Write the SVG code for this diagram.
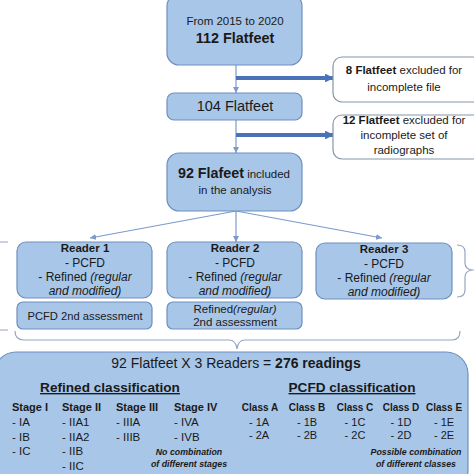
<svg xmlns="http://www.w3.org/2000/svg" width="474" height="474" viewBox="0 0 474 474">
<style>
text{font-family:"Liberation Sans",Arial,sans-serif;fill:#1a1a1a}
.b{font-weight:bold}
.i{font-style:italic}
.c{text-anchor:middle}
.box{fill:#a8c6e8;stroke:#6e8fbf;stroke-width:1.2}
.wbox{fill:#fff;stroke:#8595aa;stroke-width:1.2}
.ln{stroke:#7b9acc;stroke-width:1.2;fill:none}
.thick{stroke:#4a72b8;stroke-width:4;fill:none}
.br{stroke:#95a6bf;stroke-width:1.2;fill:none}
</style>
<defs>
<marker id="ah" viewBox="0 0 10 10" refX="10" refY="5" markerWidth="5" markerHeight="5" orient="auto"><path d="M0,0L10,5L0,10z" fill="#7b9acc"/></marker>
<marker id="ahT" viewBox="0 0 10 10" refX="9" refY="5" markerWidth="2.2" markerHeight="2.2" orient="auto"><path d="M0,0L10,5L0,10z" fill="#4a72b8"/></marker>
</defs>
<rect x="0" y="0" width="474" height="474" fill="#fff"/>
<g id="connectors">
<line class="ln" x1="236" y1="65" x2="236" y2="93" marker-end="url(#ah)"/>
<line class="ln" x1="236" y1="120" x2="236" y2="153" marker-end="url(#ah)"/>
<line class="thick" x1="236" y1="78" x2="333" y2="78" marker-end="url(#ahT)"/>
<line class="thick" x1="236" y1="135" x2="333" y2="135" marker-end="url(#ahT)"/>
<line class="ln" x1="236" y1="211" x2="90" y2="238" marker-end="url(#ah)"/>
<line class="ln" x1="236" y1="211" x2="236" y2="242" marker-end="url(#ah)"/>
<line class="ln" x1="236" y1="211" x2="382" y2="238" marker-end="url(#ah)"/>
<path class="br" d="M0,242L8,242M0,330L8,330"/>
<path class="br" d="M457,245Q465,245 465,252L465,263Q465,269 472,270L474,270M472,270Q465,271 465,277L465,290Q465,297 457,297"/>
<path class="br" d="M15,331Q15,340 24,340L229,340Q236,340 237,349Q238,340 245,340L452,340Q460,340 460,331"/>
<line x1="235" y1="384" x2="235" y2="471" stroke="#4472c4" stroke-width="4"/>
</g>
<g id="n-start">
<rect class="box" x="167" y="-6" width="135" height="71" rx="12"/>
<text class="c" x="235" y="25" font-size="11.5">From 2015 to 2020</text>
<text class="c b" x="235" y="43" font-size="14.4">112 Flatfeet</text>
</g>
<g id="n-104">
<rect class="box" x="167" y="93" width="135" height="27" rx="7"/>
<text class="c" x="235" y="111" font-size="14.5">104 Flatfeet</text>
</g>
<g id="n-92">
<rect class="box" x="167" y="153" width="135" height="58" rx="12"/>
<text class="c" x="234" y="178"><tspan class="b" font-size="14.3">92 Flafeet</tspan><tspan font-size="11.5"> included</tspan></text>
<text class="c" x="235" y="194" font-size="11.5">in the analysis</text>
</g>
<g id="n-excl8">
<rect class="wbox" x="333" y="57" width="150" height="45" rx="9"/>
<text class="c" x="404" y="74" font-size="11.5"><tspan class="b">8 Flatfeet</tspan> excluded for</text>
<text class="c" x="404" y="91" font-size="11.5">incomplete file</text>
</g>
<g id="n-excl12">
<rect class="wbox" x="333" y="115" width="150" height="44" rx="9"/>
<text class="c" x="404" y="124" font-size="11.5"><tspan class="b">12 Flatfeet</tspan> excluded for</text>
<text class="c" x="404" y="139" font-size="11.5">incomplete set of</text>
<text class="c" x="404" y="154" font-size="11.5">radiographs</text>
</g>
<g id="n-reader1">
<rect class="box" x="17" y="242" width="135" height="56" rx="9"/>
<text class="c b" x="85" y="252" font-size="11.5">Reader 1</text>
<text class="c" x="85" y="267" font-size="12">- PCFD</text>
<text class="c" x="85" y="281" font-size="12">- Refined <tspan class="i">(regular</tspan></text>
<text class="c i" x="85" y="295" font-size="12">and modified)</text>
</g>
<g id="n-r1second">
<rect class="box" x="17" y="302" width="135" height="27" rx="6"/>
<text class="c" x="85" y="320" font-size="11.2">PCFD 2nd assessment</text>
</g>
<g id="n-reader2">
<rect class="box" x="167" y="242" width="135" height="56" rx="9"/>
<text class="c b" x="235" y="252" font-size="11.5">Reader 2</text>
<text class="c" x="235" y="267" font-size="12">- PCFD</text>
<text class="c" x="235" y="281" font-size="12">- Refined <tspan class="i">(regular</tspan></text>
<text class="c i" x="235" y="295" font-size="12">and modified)</text>
</g>
<g id="n-r2second">
<rect class="box" x="167" y="302" width="135" height="27" rx="6"/>
<text class="c" x="235" y="313" font-size="11.5">Refined<tspan class="i">(regular)</tspan></text>
<text class="c" x="235" y="326" font-size="11.5">2nd assessment</text>
</g>
<g id="n-reader3">
<rect class="box" x="316" y="243" width="136" height="56" rx="9"/>
<text class="c b" x="384" y="253" font-size="11.5">Reader 3</text>
<text class="c" x="384" y="268" font-size="12">- PCFD</text>
<text class="c" x="384" y="282" font-size="12">- Refined <tspan class="i">(regular</tspan></text>
<text class="c i" x="384" y="296" font-size="12">and modified)</text>
</g>
<g id="n-summary">
<rect class="box" x="-6" y="352" width="474" height="140" rx="22"/>
<text class="c" x="236" y="368" font-size="14">92 Flatfeet X 3 Readers = <tspan class="b">276 readings</tspan></text>
<text class="c b" x="110" y="392" font-size="13.6" text-decoration="underline">Refined classification</text>
<text class="c b" x="352" y="392" font-size="13.6" text-decoration="underline">PCFD classification</text>
<g font-size="11">
<text class="b" x="12" y="411">Stage I</text>
<text class="b" x="62" y="411">Stage II</text>
<text class="b" x="116" y="411">Stage III</text>
<text class="b" x="174" y="411">Stage IV</text>
</g>
<g font-size="11.5">
<text x="12" y="426">- IA</text>
<text x="12" y="441">- IB</text>
<text x="12" y="455">- IC</text>
<text x="62" y="426">- IIA1</text>
<text x="62" y="441">- IIA2</text>
<text x="62" y="455">- IIB</text>
<text x="62" y="470">- IIC</text>
<text x="116" y="426">- IIIA</text>
<text x="116" y="441">- IIIB</text>
<text x="174" y="426">- IVA</text>
<text x="174" y="441">- IVB</text>
</g>
<g font-size="8.8" class="b i">
<text class="c" x="189" y="455">No combination</text>
<text class="c" x="189" y="467">of different stages</text>
<text class="c" x="416" y="455">Possible combination</text>
<text class="c" x="416" y="467">of different classes</text>
</g>
<g font-size="10" class="b c">
<text x="260" y="411">Class A</text>
<text x="307" y="411">Class B</text>
<text x="355" y="411">Class C</text>
<text x="401" y="411">Class D</text>
<text x="444" y="411">Class E</text>
</g>
<g font-size="11" class="c">
<text x="259" y="426">- 1A</text>
<text x="259" y="439">- 2A</text>
<text x="307" y="426">- 1B</text>
<text x="307" y="439">- 2B</text>
<text x="355" y="426">- 1C</text>
<text x="355" y="439">- 2C</text>
<text x="401" y="426">- 1D</text>
<text x="401" y="439">- 2D</text>
<text x="444" y="426">- 1E</text>
<text x="444" y="439">- 2E</text>
</g>
</g>
</svg>
